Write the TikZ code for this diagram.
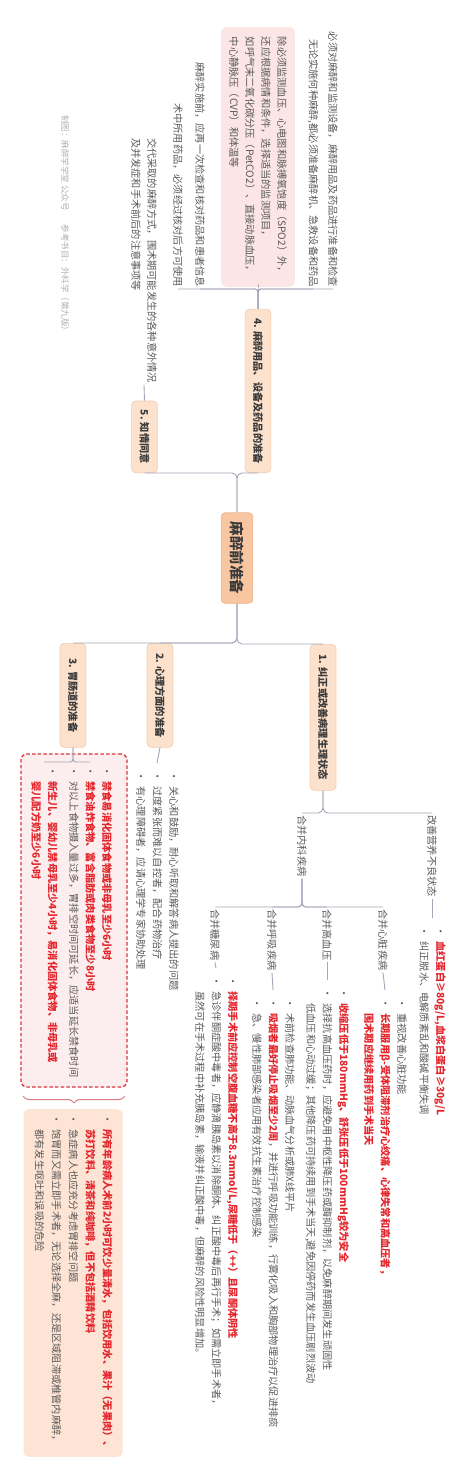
\documentclass[tikz,border=0pt]{standalone}
\usepackage{fontspec}
\setmainfont{Noto Sans CJK SC}
\usetikzlibrary{decorations.pathreplacing}
\definecolor{connc}{HTML}{A5A5B7}
\definecolor{txt}{HTML}{595959}
\definecolor{ttl}{HTML}{3A3A3A}
\definecolor{myred}{HTML}{E3262D}
\definecolor{cfill}{HTML}{F8C6A0}
\definecolor{cdraw}{HTML}{EDB48C}
\definecolor{tfill}{HTML}{FCE1CC}
\definecolor{tdraw}{HTML}{F2CBAE}
\definecolor{pinkf}{HTML}{FBE5E5}
\definecolor{dashf}{HTML}{FCEEEE}
\definecolor{dashd}{HTML}{D8343C}
\definecolor{sumf}{HTML}{FDE4D4}
\definecolor{bracec}{HTML}{D87E84}
\definecolor{footc}{HTML}{B0B0B0}
\newcommand{\rt}[1]{\textcolor{myred}{\bfseries #1}}
\begin{document}
\begin{tikzpicture}[x=1pt,y=1pt,
  conn/.style={draw=connc,line width=0.9pt,rounded corners=5pt},
  central/.style={fill=cfill,draw=cdraw,line width=0.6pt,rounded corners=4pt,text=ttl,
    font=\fontsize{14.5}{16}\selectfont\bfseries,inner xsep=9pt,inner ysep=9pt},
  topic/.style={fill=tfill,draw=tdraw,line width=0.6pt,rounded corners=4pt,text=ttl,
    font=\fontsize{10.2}{12}\selectfont\bfseries,inner xsep=9pt,inner ysep=8pt},
  plain/.style={text=txt,font=\fontsize{10.2}{16}\selectfont,inner xsep=2pt,inner ysep=3pt},
  blist/.style={text=txt,font=\fontsize{10.2}{16.5}\selectfont,inner xsep=8pt,inner ysep=2pt},
  pbox/.style={fill=pinkf,rounded corners=6pt,text=txt,align=left,
    font=\fontsize{10.2}{16}\selectfont,inner xsep=10pt,inner ysep=8pt},
  sbox/.style={fill=sumf,rounded corners=5pt,text=txt,
    font=\fontsize{10.2}{17}\selectfont,inner xsep=5pt,inner ysep=7pt,minimum width=336pt},
]
\useasboundingbox (0,0) rectangle (474,-1467);
\begin{scope}[shift={(474,0)},rotate=-90,transform shape]
% boundary behind stomach items
\draw[draw=dashd,fill=dashf,line width=1.3pt,dash pattern=on 3.5pt off 2.2pt,rounded corners=6pt]
  (754,-347) rectangle (1087,-453);

% central
\node[central] (c) at (558,-237) {麻醉前准备};

% left topics
\node[topic,anchor=east] (n4) at (473,-216) {4. 麻醉用品、设备及药品的准备};
\node[topic,anchor=east] (n5) at (473,-329.5) {5. 知情同意};
\coordinate (sL) at (493,-237);
\draw[conn] (c.west) -- (sL) -| (n4.east);
\draw[conn] (c.west) -- (sL) -| (n5.east);

% right topics
\node[topic,anchor=west,minimum width=146pt] (n1) at (644,-151) {1. 纠正或改善病理生理状态};
\node[topic,anchor=west,minimum width=104pt] (n2) at (643,-314) {2. 心理方面的准备};
\node[topic,anchor=west,minimum width=104pt] (n3) at (643,-401) {3. 胃肠道的准备};
\coordinate (sR) at (623,-237);
\draw[conn] (c.east) -- (sR) -| (n1.west);
\draw[conn] (c.east) -- (sR) -| (n2.west);
\draw[conn] (c.east) -- (sR) -| (n3.west);

% topic 4 children
\coordinate (s4) at (293,-216);
\node[plain,anchor=east] (a1) at (289,-141) {必须对麻醉和监测设备，麻醉用品及药品进行准备和检查};
\node[plain,anchor=east] (a2) at (289,-161) {无论实施何种麻醉,都必须准备麻醉机、急救设备和药品};
\node[pbox,anchor=east] (a3) at (287,-216) {除必须监测血压、心电图和脉搏氧饱度（SPO2）外，\\还应根据病情和条件，选择适当的监测项目，\\如呼气末二氧化碳分压（PetCO2）、直接动脉血压，\\中心静脉压（CVP）和体温等};
\node[plain,anchor=east] (a4) at (289,-274) {麻醉实施前，应再一次检查和核对药品和患者信息};
\node[plain,anchor=east] (a5) at (289,-296) {术中所用药品，必须经过核对后方可使用};
\foreach \k in {a1,a2,a3,a4,a5} {\draw[conn,rounded corners=3pt] (n4.west) -- (s4) -| (\k.east);}

% topic 5 child
\node[plain,anchor=east,align=left] (b5) at (385,-330) {交代采取的麻醉方式，围术期可能发生的各种意外情况\\及并发症和手术前后的注意事项等};
\draw[conn] (n5.west) -- (b5.east);

% footer
\node[anchor=west,text=footc,font=\fontsize{8.5}{10}\selectfont,inner sep=0pt] (ft) at (115,-409)
  {制图：麻醉学学堂 公众号\hspace{14pt}参考书目：外科学（第九版）};

% topic 1 children
\coordinate (s1) at (803,-151);
\node[plain,anchor=west] (c1a) at (813,-42) {改善营养不良状态};
\node[plain,anchor=west] (c1b) at (813,-172) {合并内科疾病};
\draw[conn] (n1.east) -- (s1) -| (c1a.west);
\draw[conn] (n1.east) -- (s1) -| (c1b.west);

\node[blist,anchor=west] (bc1a) at (918,-42) {\begin{tabular}{@{}l@{\hspace{5pt}}l@{}}
• & \rt{血红蛋白≥80g/L,血浆白蛋白≥30g/L}\\
• & 纠正脱水、电解质紊乱和酸碱平衡失调
\end{tabular}};
\draw[conn] (c1a.east) -- (bc1a.west);

\coordinate (s1b) at (895,-172);
\node[plain,anchor=west] (g1) at (907,-91) {合并心脏疾病};
\node[plain,anchor=west] (g2) at (907,-147) {合并高血压};
\node[plain,anchor=west] (g3) at (907,-202) {合并呼吸疾病};
\node[plain,anchor=west] (g4) at (907,-259) {合并糖尿病};
\foreach \k in {g1,g2,g3,g4} {\draw[conn,rounded corners=4pt] (c1b.east) -- (s1b) -| (\k.west);}

\node[blist,anchor=west] (bg1) at (990,-89) {\begin{tabular}{@{}l@{\hspace{5pt}}l@{}}
• & 重视改善心脏功能\\
• & \rt{长期服用β-受体阻滞剂治疗心绞痛、心律失常和高血压者，}\\
  & \rt{围术期应继续用药到手术当天}
\end{tabular}};
\node[blist,anchor=west] (bg2) at (980,-147) {\begin{tabular}{@{}l@{\hspace{5pt}}l@{}}
• & \rt{收缩压低于180mmHg、舒张压低于100mmHg较为安全}\\
• & 选择抗高血压药时，应避免用中枢性降压药或酶抑制剂，以免麻醉期间发生顽固性\\
  & 低血压和心动过缓；其他降压药可持续用到手术当天,避免因停药而发生血压剧烈波动
\end{tabular}};
\node[blist,anchor=west] (bg3) at (990,-201) {\begin{tabular}{@{}l@{\hspace{5pt}}l@{}}
• & 术前检查肺功能、动脉血气分析或肺X线平片\\
• & \rt{吸烟者最好停止吸烟至少2周}，并进行呼吸功能训练，行雾化吸入和胸部物理治疗以促进排痰\\
• & 急、慢性肺部感染者应用有效抗生素治疗控制感染
\end{tabular}};
\node[blist,anchor=west] (bg4) at (968,-258) {\begin{tabular}{@{}l@{\hspace{5pt}}l@{}}
• & \rt{择期手术前应控制空腹血糖不高于8.3mmol/L,尿糖低于（++）且尿酮体阴性}\\
• & 急诊伴酮症酸中毒者，应静滴胰岛素以消除酮体、纠正酸中毒后再行手术；如需立即手术者，\\
  & 虽然可在手术过程中补充胰岛素，输液并纠正酸中毒，但麻醉的风险性明显增加。
\end{tabular}};
\draw[conn] (g1.east) -- (bg1.west);
\draw[conn] (g2.east) -- (bg2.west);
\draw[conn] (g3.east) -- (bg3.west);
\draw[conn] (g4.east) -- (bg4.west);

% topic 2 children
\node[blist,anchor=west] (b2) at (763,-317) {\begin{tabular}{@{}l@{\hspace{5pt}}l@{}}
• & 关心和鼓励，耐心听取和解答病人提出的问题\\
• & 过度紧张而难以自控者，配合药物治疗\\
• & 有心理障碍者，应请心理学专家协助处理
\end{tabular}};
\draw[conn] (n2.east) -- (b2.west);

% topic 3 children
\coordinate (s3) at (753,-401);
\node[blist,anchor=west,inner xsep=4pt] (b3a) at (762,-384) {\begin{tabular}{@{}l@{\hspace{5pt}}l@{}}
• & \rt{禁食易消化固体食物或非母乳至少6小时}\\
• & \rt{禁食油炸食物、富含脂肪或肉类食物至少8小时}\\
• & 对以上食物摄入量过多，胃排空时间可延长，应适当延长禁食时间
\end{tabular}};
\node[blist,anchor=west,inner xsep=4pt] (b3b) at (762,-430) {\begin{tabular}{@{}l@{\hspace{5pt}}l@{}}
• & \rt{新生儿、婴幼儿禁母乳至少4小时，易消化固体食物、非母乳或}\\
  & \rt{婴儿配方奶至少6小时}
\end{tabular}};
\draw[conn,rounded corners=3pt] (n3.east) -- (s3) -| (b3a.west);
\draw[conn,rounded corners=3pt] (n3.east) -- (s3) -| (b3b.west);

% summary brace and box
\coordinate (brA) at (1096,-349);
\coordinate (brB) at (1096,-451);
\draw[draw=bracec,line width=1pt,decorate,decoration={brace,amplitude=7pt}] (brA) -- (brB);
\node[sbox,anchor=west] (sm) at (1109,-401) {\begin{tabular}{@{}l@{\hspace{5pt}}l@{}}
• & \rt{所有年龄病人术前2小时可饮少量清水，包括饮用水、果汁（无果肉）、}\\
  & \rt{苏打饮料、清茶和纯咖啡，但不包括酒精饮料}\\
• & 急症病人也应充分考虑胃排空问题\\
• & 饱胃而又需立即手术者，无论选择全麻，还是区域阻滞或椎管内麻醉，\\
  & 都有发生呕吐和误吸的危险
\end{tabular}};
\end{scope}
\end{tikzpicture}
\end{document}
